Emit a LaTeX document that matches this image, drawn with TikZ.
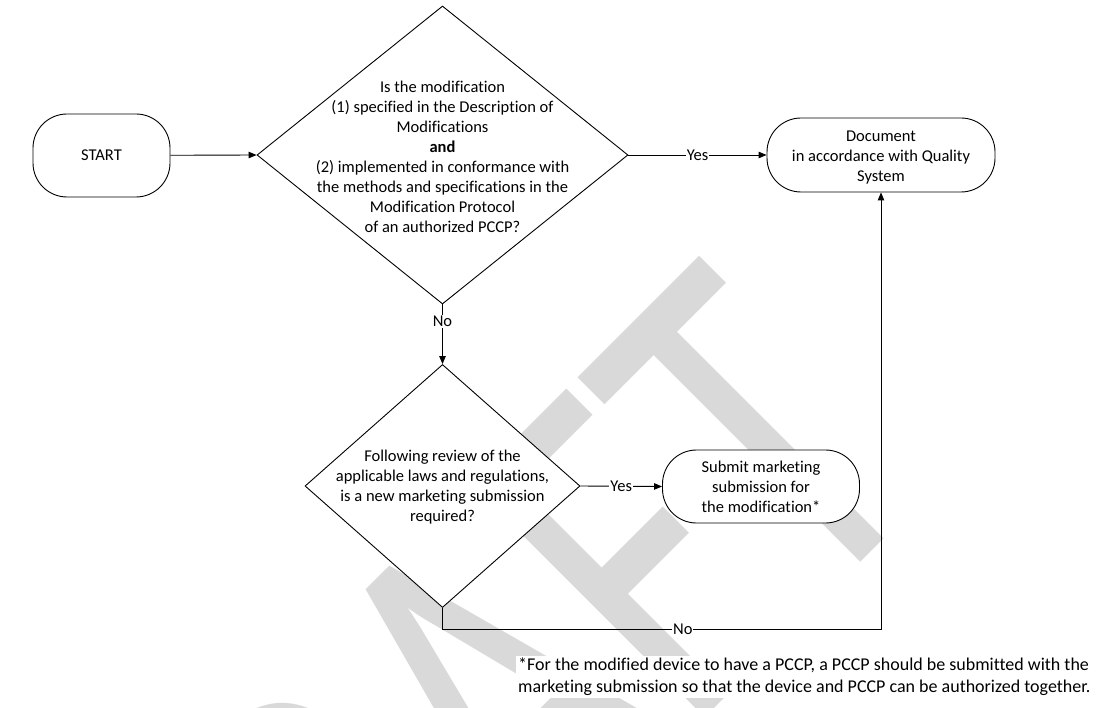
\documentclass[tikz,border=0pt]{standalone}
\usepackage{fontspec}
\setmainfont{Carlito}[Ligatures=CommonOff]
\usetikzlibrary{shapes.geometric,arrows.meta}
\definecolor{wmgray}{RGB}{217,217,217}
\begin{document}
\begin{tikzpicture}[x=1pt,y=-1pt,
  base/.style={font=\fontsize{16.5}{20}\selectfont},
  stadium/.style={base,draw,fill=white,line width=0.9pt,rounded corners=34pt,align=center,inner sep=0pt},
  dia/.style={base,draw,fill=white,line width=0.9pt,diamond,inner sep=0pt},
  conn/.style={line width=0.9pt,-{Triangle[length=8pt,width=6.5pt]}},
  lbl/.style={base,fill=white,inner sep=1pt},
  wm/.style={text=wmgray,font=\fontsize{515}{515}\selectfont,inner sep=0pt}
]
\useasboundingbox (0,0) rectangle (1110,708);
\begin{scope}
\clip (0,0) rectangle (1110,708);
\node[wm,rotate=45,xscale=0.72,anchor=base east] (wmark) at (936,487) {DRAFT};
\end{scope}

\node[stadium,minimum width=137pt,minimum height=83pt] (start) at (101.5,155.5) {START};
\node[dia,minimum width=371pt,minimum height=298pt,
  label={[base,align=center,yshift=-1.5pt]center:Is the modification\\(1) specified in the Description of\\Modifications\\\textbf{and}\\(2) implemented in conformance with\\the methods and specifications in the\\Modification Protocol\\of an authorized PCCP?}] (d1) at (442.5,155) {};
\node[stadium,minimum width=228pt,minimum height=74pt] (doc) at (881,155) {\raisebox{-3pt}[\height][\depth]{\begin{tabular}{@{}c@{}}Document\\in accordance with Quality\\System\end{tabular}}};
\node[dia,minimum width=275pt,minimum height=243pt,
  label={[base,align=center,yshift=-1.5pt]center:Following review of the\\applicable laws and regulations,\\is a new marketing submission\\required?}] (d2) at (442.5,486) {};
\node[stadium,minimum width=197pt,minimum height=73pt] (sub) at (761,486.5) {\raisebox{-2pt}[\height][\depth]{\begin{tabular}{@{}c@{}}Submit marketing\\submission for\\the modification*\end{tabular}}};

\coordinate (nb1) at (442.5,629);
\coordinate (nb2) at (doc.south |- nb1);

\draw[conn] (start) -- (d1.west);
\draw[conn] (d1.east) -- node[lbl,pos=0.5]{Yes} (doc.west);
\draw[conn] (d1.south) -- node[lbl,pos=0.29]{No} (d2.north);
\draw[conn] (d2.east) -- node[lbl,pos=0.5]{Yes} (sub.west);
\draw[conn] (d2.south) -- (nb1) -- node[lbl,pos=0.548]{No} (nb2) -- (doc.south);

\node[fill=white,inner sep=2pt,anchor=west,align=left,font=\fontsize{18}{22}\selectfont] (note) at (516,677) {*For the modified device to have a PCCP, a PCCP should be submitted with the\\marketing submission so that the device and PCCP can be authorized together.};
\end{tikzpicture}
\end{document}
